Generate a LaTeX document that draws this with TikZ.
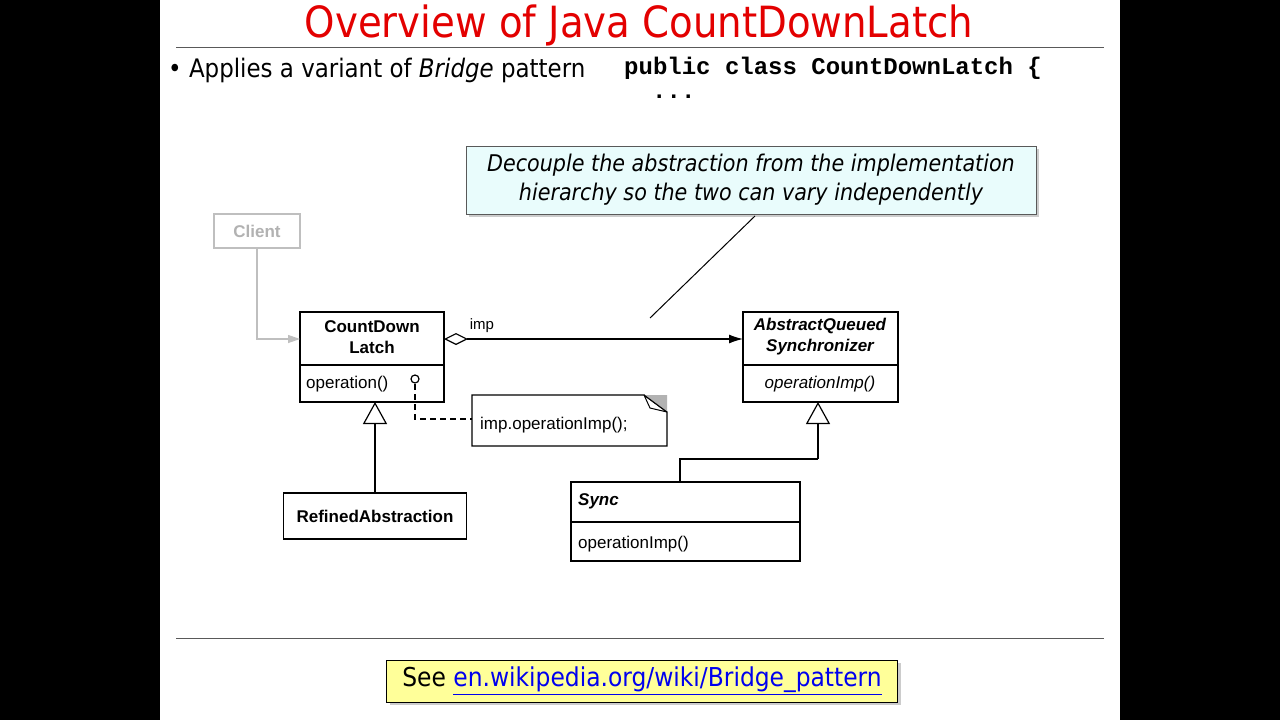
\documentclass[tikz,border=0pt]{standalone}
\usepackage{fontspec}
\setmainfont{DejaVu Sans Condensed}
\newfontfamily\uml{Liberation Sans}
\newfontfamily\mono{Liberation Mono}
\usetikzlibrary{arrows.meta,shadows}
\definecolor{titlered}{HTML}{E30000}
\definecolor{cyanfill}{HTML}{E9FCFC}
\definecolor{yel}{HTML}{FFFF99}
\definecolor{linkblue}{HTML}{0000EE}
\tikzset{
  cls/.style={draw,line width=1.2pt},
  umltxt/.style={font=\uml\fontsize{17}{20}\selectfont,inner sep=0pt},
  gen/.style={-{Triangle[open,length=22pt,width=24pt]},line width=1.2pt},
}
\begin{document}
\begin{tikzpicture}[x=1pt,y=-1pt]
\useasboundingbox (0,0) rectangle (1280,720);
\fill[black] (0,0) rectangle (160,720);
\fill[black] (1120,0) rectangle (1280,720);
\fill[white] (160,0) rectangle (1120,720);
\node[text=titlered,font=\fontsize{43}{47}\selectfont] (title) at (639,25) {Overview of Java CountDownLatch};
\draw[gray!70!black,line width=1pt] (176,47) -- (1104,47);
\draw[gray!70!black,line width=1pt] (176,638) -- (1104,638);
\node[anchor=west,font=\fontsize{25.5}{29}\selectfont,inner sep=0pt] (bullet) at (168,70) {\textbullet\ Applies a variant of \textit{Bridge} pattern};
\node[anchor=west,font=\mono\bfseries\fontsize{24}{28}\selectfont,inner sep=0pt] (code1) at (624,68) {public class CountDownLatch \{};
\node[anchor=west,font=\mono\bfseries\fontsize{24}{28}\selectfont,inner sep=0pt] (code2) at (652,97) {...};
% callout
\node[draw=gray!70!black,fill=cyanfill,drop shadow={shadow xshift=3pt,shadow yshift=-3pt,opacity=0.4},minimum width=570pt,minimum height=68pt,align=center,font=\itshape\fontsize{23}{29}\selectfont] (callout) at (751,180) {Decouple the abstraction from the implementation\\hierarchy so the two can vary independently};
\coordinate (ptr) at (650,318);
\draw[line width=1pt] (755,216) -- (ptr);
% client
\node[draw=gray!50,line width=1.2pt,minimum width=86pt,minimum height=34pt,font=\uml\bfseries\fontsize{17}{20}\selectfont,text=gray!60] (client) at (257,231) {Client};
% CountDownLatch
\draw[cls] (300,312) rectangle (444,402); \draw[cls] (300,365) -- (444,365);
\coordinate (cdlW) at (300,339); \coordinate (cdlE) at (444,339); \coordinate (cdlS) at (375,402);
\node[umltxt,font=\uml\bfseries\fontsize{17}{21}\selectfont,align=center] (cdlname) at (372,337) {CountDown\\Latch};
\node[umltxt,anchor=west] (op) at (306,384) {operation()};
\draw[gray!50,line width=1.2pt,-{Triangle[length=12pt,width=8pt]}] (client.south) |- (cdlW);
% lollipop & note
\draw[line width=1.2pt] (415,379) circle (4pt);
\coordinate (lol) at (415,384);
\coordinate (noteW) at (472,419);
\draw[line width=1.2pt,dash pattern=on 6pt off 4pt] (lol) |- (noteW);
\draw[line width=1.2pt] (472,395) -- (644,395) -- (667,412) -- (667,446) -- (472,446) -- cycle;
\fill[gray!60] (644,395) -- (667,395) -- (667,412) -- cycle;
\draw[line width=1pt] (644,395) -- (667,412) (644,395) -- (650,408) -- (667,412);
\node[umltxt,anchor=west] (note) at (480,425) {imp.operationImp();};
% AQS
\draw[cls] (743,312) rectangle (898,402); \draw[cls] (743,365) -- (898,365);
\coordinate (aqsW) at (743,339); \coordinate (aqsS) at (818,402);
\node[umltxt,font=\uml\bfseries\itshape\fontsize{17}{21}\selectfont,align=center] (aqsname) at (820,337) {AbstractQueued\\Synchronizer};
\node[umltxt,font=\uml\itshape\fontsize{17}{20}\selectfont] (aqsop) at (820,384) {operationImp()};
\draw[line width=1.2pt,{Diamond[open,length=24pt,width=12pt]}-{Latex[length=14pt,width=9pt]}] (cdlE) -- (aqsW);
\node[umltxt,font=\uml\fontsize{15}{18}\selectfont] (imp) at (482,326) {imp};
% Sync
\draw[cls] (571,482) rectangle (800,561); \draw[cls] (571,522) -- (800,522);
\coordinate (syncN) at (680,482);
\node[umltxt,anchor=west,font=\uml\bfseries\itshape\fontsize{17}{20}\selectfont] (sync) at (578,501) {Sync};
\node[umltxt,anchor=west] (syncop) at (578,544) {operationImp()};
\coordinate (aqsT) at (818,459);
\draw[line width=1.2pt] (syncN) |- (aqsT);
\draw[gen] (aqsT) -- (aqsS);
% Refined
\node[cls,minimum width=183pt,minimum height=46pt,umltxt,font=\uml\bfseries\fontsize{17}{20}\selectfont] (ref) at (375,516) {RefinedAbstraction};
\coordinate (refT) at (375,459);
\draw[line width=1.2pt] (ref.north) -- (refT);
\draw[gen] (refT) -- (cdlS);
% see box
\node[draw,line width=1pt,fill=yel,drop shadow={shadow xshift=3pt,shadow yshift=-3pt,opacity=0.4},minimum width=511pt,minimum height=42pt,font=\fontsize{26}{30}\selectfont] (see) at (642,681) {See \textcolor{linkblue}{\underline{en.wikipedia.org/wiki/Bridge\_pattern}}};
\end{tikzpicture}
\end{document}
